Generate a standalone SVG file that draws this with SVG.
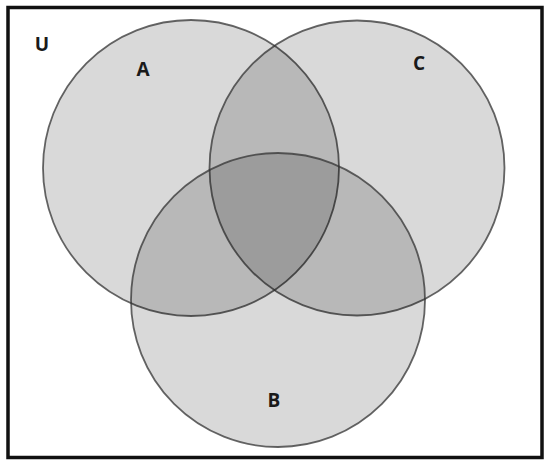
<svg xmlns="http://www.w3.org/2000/svg" width="549" height="465" viewBox="0 0 549 465">
<style>
.set{fill:#000;fill-opacity:0.15;stroke:#333;stroke-opacity:0.75;stroke-width:1.8}
.lbl{font-family:"Open Sans","Liberation Sans",sans-serif;font-weight:bold;font-size:19px;fill:#1a1a1a;text-anchor:middle}
</style>
<rect x="0" y="0" width="549" height="465" fill="#fff"/>
<g id="U">
<rect x="8" y="7.5" width="534" height="450" fill="none" stroke="#111" stroke-width="3.5"/>
<text class="lbl" x="42" y="51">U</text>
</g>
<g id="A">
<circle class="set" cx="191" cy="168" r="148"/>
<text class="lbl" x="143" y="76">A</text>
</g>
<g id="C">
<circle class="set" cx="357" cy="168" r="147.5"/>
<text class="lbl" x="419" y="70">C</text>
</g>
<g id="B">
<circle class="set" cx="278" cy="300" r="147"/>
<text class="lbl" x="274" y="407">B</text>
</g>
<g id="connectors"></g>
</svg>
